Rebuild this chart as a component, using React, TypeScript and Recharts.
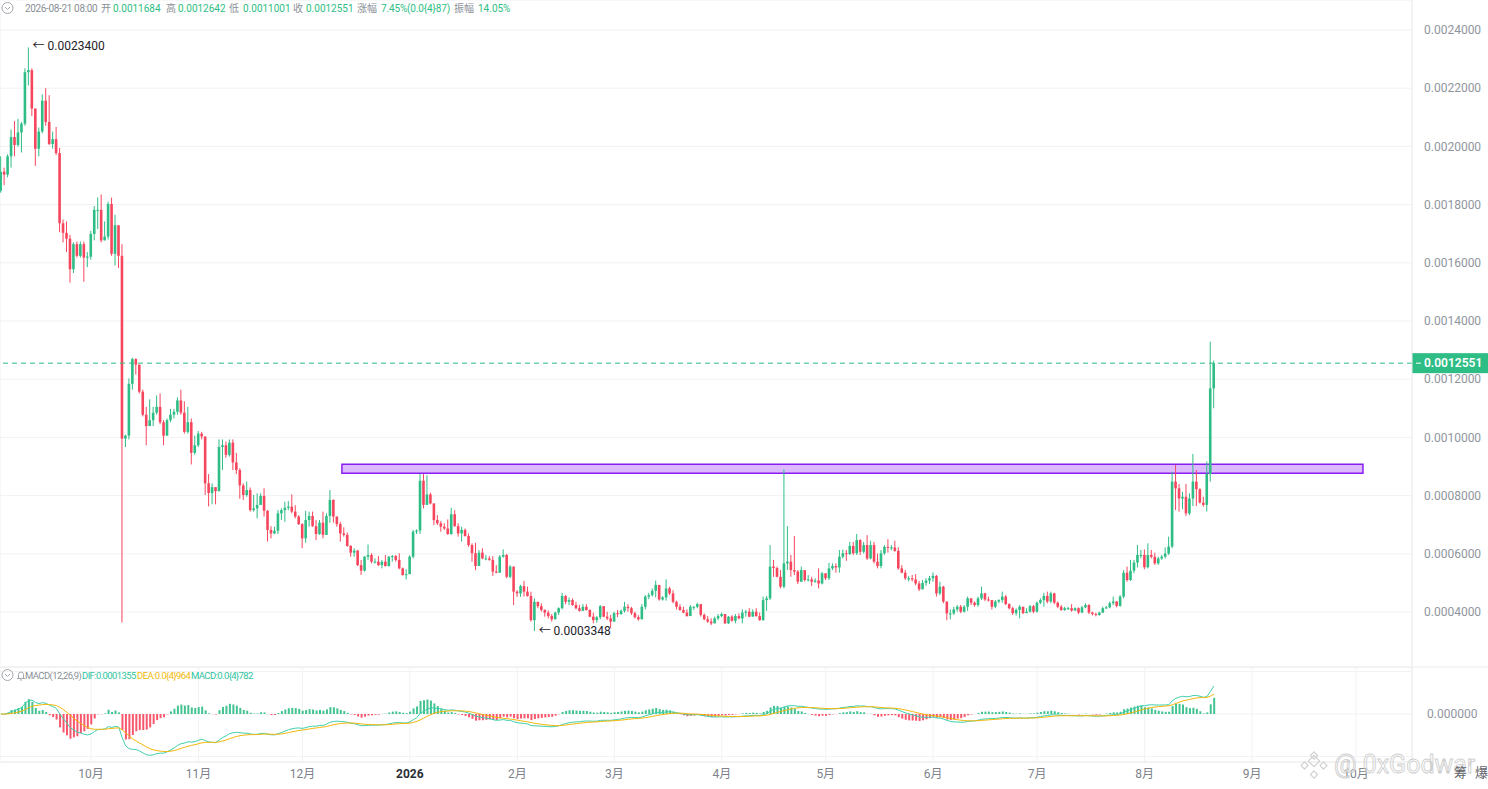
import React from 'react';
import {
  ComposedChart, Bar, Line, XAxis, YAxis, CartesianGrid,
  ReferenceLine, ReferenceArea, ReferenceDot, Cell,
} from 'recharts';

// Day offsets are counted from 2025-10-01 (day 0). First candle: 2025-09-05 (day -26), last: 2026-08-21 (day 324).
const START_DAY = -26;
const FIRST_OPEN = 0.001848;

const CLOSES = [
  0.001913, 0.001903, 0.001966, 0.002032, 0.002005, 0.002048, 0.002078, 0.002255, 0.002262, 0.002130,
  0.001992, 0.002051, 0.002157, 0.002084, 0.002008, 0.002025, 0.001977, 0.001736, 0.001703, 0.001683,
  0.001578, 0.001664, 0.001624, 0.001664, 0.001618, 0.001621, 0.001699, 0.001782, 0.001782, 0.001677,
  0.001690, 0.001802, 0.001631, 0.001729, 0.001624, 0.000996, 0.001006, 0.001184, 0.001269, 0.001250,
  0.001157, 0.001078, 0.001039, 0.001059, 0.001085, 0.001105, 0.001052, 0.001006, 0.001059, 0.001078,
  0.001088, 0.001127, 0.001085, 0.001019, 0.001052, 0.000947, 0.000973, 0.001013, 0.001003, 0.000842,
  0.000809, 0.000829, 0.000815, 0.000967, 0.000973, 0.000940, 0.000982, 0.000914, 0.000888, 0.000835,
  0.000802, 0.000819, 0.000750, 0.000756, 0.000768, 0.000799, 0.000748, 0.000682, 0.000670, 0.000679,
  0.000739, 0.000750, 0.000758, 0.000762, 0.000745, 0.000728, 0.000702, 0.000653, 0.000716, 0.000730,
  0.000695, 0.000668, 0.000707, 0.000665, 0.000730, 0.000785, 0.000728, 0.000702, 0.000670, 0.000665,
  0.000627, 0.000604, 0.000611, 0.000561, 0.000542, 0.000590, 0.000596, 0.000573, 0.000573, 0.000561,
  0.000573, 0.000558, 0.000590, 0.000592, 0.000579, 0.000550, 0.000527, 0.000530, 0.000590, 0.000676,
  0.000680, 0.000851, 0.000768, 0.000804, 0.000773, 0.000716, 0.000705, 0.000693, 0.000687, 0.000668,
  0.000736, 0.000695, 0.000670, 0.000682, 0.000661, 0.000630, 0.000602, 0.000558, 0.000604, 0.000584,
  0.000584, 0.000579, 0.000539, 0.000535, 0.000590, 0.000596, 0.000521, 0.000556, 0.000470, 0.000464,
  0.000489, 0.000470, 0.000455, 0.000372, 0.000435, 0.000420, 0.000407, 0.000398, 0.000386, 0.000375,
  0.000398, 0.000413, 0.000455, 0.000435, 0.000441, 0.000424, 0.000413, 0.000404, 0.000418, 0.000407,
  0.000384, 0.000372, 0.000382, 0.000420, 0.000384, 0.000378, 0.000367, 0.000396, 0.000393, 0.000404,
  0.000418, 0.000413, 0.000396, 0.000382, 0.000375, 0.000418, 0.000453, 0.000458, 0.000473, 0.000493,
  0.000443, 0.000450, 0.000481, 0.000464, 0.000435, 0.000418, 0.000407, 0.000398, 0.000386, 0.000418,
  0.000418, 0.000427, 0.000390, 0.000375, 0.000367, 0.000361, 0.000378, 0.000386, 0.000393, 0.000361,
  0.000384, 0.000370, 0.000386, 0.000378, 0.000398, 0.000401, 0.000384, 0.000401, 0.000386, 0.000372,
  0.000441, 0.000447, 0.000556, 0.000551, 0.000521, 0.000487, 0.000567, 0.000573, 0.000544, 0.000539,
  0.000504, 0.000544, 0.000510, 0.000512, 0.000504, 0.000508, 0.000498, 0.000533, 0.000516, 0.000550,
  0.000558, 0.000553, 0.000590, 0.000602, 0.000599, 0.000627, 0.000602, 0.000647, 0.000607, 0.000630,
  0.000584, 0.000630, 0.000573, 0.000558, 0.000602, 0.000624, 0.000622, 0.000622, 0.000610, 0.000550,
  0.000535, 0.000516, 0.000516, 0.000512, 0.000498, 0.000478, 0.000500, 0.000508, 0.000516, 0.000524,
  0.000464, 0.000487, 0.000436, 0.000395, 0.000395, 0.000409, 0.000418, 0.000401, 0.000418, 0.000447,
  0.000432, 0.000424, 0.000447, 0.000464, 0.000443, 0.000441, 0.000418, 0.000436, 0.000441, 0.000453,
  0.000427, 0.000413, 0.000396, 0.000407, 0.000418, 0.000396, 0.000401, 0.000420, 0.000401, 0.000432,
  0.000441, 0.000455, 0.000436, 0.000464, 0.000432, 0.000418, 0.000407, 0.000413, 0.000413, 0.000405,
  0.000413, 0.000398, 0.000416, 0.000424, 0.000398, 0.000393, 0.000390, 0.000398, 0.000413, 0.000416,
  0.000430, 0.000436, 0.000421, 0.000453, 0.000535, 0.000510, 0.000542, 0.000570, 0.000596, 0.000596,
  0.000554, 0.000596, 0.000590, 0.000567, 0.000584, 0.000590, 0.000601, 0.000625, 0.000848, 0.000825,
  0.000790, 0.000796, 0.000739, 0.000790, 0.000848, 0.000822, 0.000776, 0.000768, 0.000874, 0.0011684,
  0.0012551,
];

const HIGHS = [
  0.001966, 0.001927, 0.001973, 0.002058, 0.002087, 0.002095, 0.002084, 0.002268, 0.002340, 0.002268,
  0.002130, 0.002065, 0.002179, 0.002200, 0.002176, 0.002051, 0.002067, 0.001995, 0.001749, 0.001742,
  0.001696, 0.001670, 0.001673, 0.001673, 0.001673, 0.001637, 0.001710, 0.001795, 0.001825, 0.001835,
  0.001742, 0.001810, 0.001824, 0.001765, 0.001729, 0.001664, 0.001009, 0.001203, 0.001274, 0.001272,
  0.001223, 0.001164, 0.001105, 0.001131, 0.001105, 0.001144, 0.001151, 0.001059, 0.001065, 0.001098,
  0.001098, 0.001138, 0.001164, 0.001124, 0.001105, 0.001065, 0.001006, 0.001022, 0.001019, 0.001003,
  0.000874, 0.000842, 0.000829, 0.000993, 0.000993, 0.000986, 0.000993, 0.000993, 0.000947, 0.000894,
  0.000842, 0.000848, 0.000828, 0.000802, 0.000808, 0.000808, 0.000825, 0.000750, 0.000695, 0.000693,
  0.000750, 0.000756, 0.000779, 0.000781, 0.000804, 0.000767, 0.000733, 0.000705, 0.000748, 0.000745,
  0.000745, 0.000716, 0.000716, 0.000745, 0.000739, 0.000819, 0.000787, 0.000728, 0.000710, 0.000691,
  0.000673, 0.000630, 0.000619, 0.000613, 0.000579, 0.000592, 0.000632, 0.000602, 0.000584, 0.000592,
  0.000579, 0.000596, 0.000592, 0.000596, 0.000596, 0.000602, 0.000553, 0.000547, 0.000595, 0.000682,
  0.000684, 0.000874, 0.000874, 0.000870, 0.000810, 0.000773, 0.000733, 0.000713, 0.000705, 0.000718,
  0.000758, 0.000750, 0.000705, 0.000693, 0.000687, 0.000670, 0.000636, 0.000638, 0.000613, 0.000619,
  0.000596, 0.000592, 0.000592, 0.000561, 0.000596, 0.000615, 0.000599, 0.000561, 0.000556, 0.000475,
  0.000493, 0.000507, 0.000487, 0.000470, 0.000447, 0.000435, 0.000430, 0.000409, 0.000405, 0.000393,
  0.000401, 0.000416, 0.000466, 0.000458, 0.000450, 0.000447, 0.000435, 0.000424, 0.000427, 0.000427,
  0.000409, 0.000398, 0.000386, 0.000424, 0.000409, 0.000401, 0.000390, 0.000401, 0.000407, 0.000409,
  0.000435, 0.000427, 0.000418, 0.000401, 0.000389, 0.000427, 0.000458, 0.000466, 0.000481, 0.000508,
  0.000458, 0.000455, 0.000512, 0.000487, 0.000475, 0.000439, 0.000427, 0.000418, 0.000409, 0.000424,
  0.000420, 0.000432, 0.000420, 0.000395, 0.000386, 0.000378, 0.000384, 0.000393, 0.000398, 0.000393,
  0.000386, 0.000389, 0.000393, 0.000395, 0.000409, 0.000407, 0.000413, 0.000409, 0.000413, 0.000398,
  0.000453, 0.000455, 0.000630, 0.000579, 0.000556, 0.000544, 0.000890, 0.000695, 0.000596, 0.000661,
  0.000544, 0.000556, 0.000544, 0.000527, 0.000521, 0.000516, 0.000550, 0.000538, 0.000533, 0.000569,
  0.000567, 0.000567, 0.000613, 0.000615, 0.000613, 0.000641, 0.000641, 0.000668, 0.000650, 0.000641,
  0.000664, 0.000645, 0.000641, 0.000601, 0.000613, 0.000630, 0.000650, 0.000630, 0.000645, 0.000622,
  0.000561, 0.000544, 0.000524, 0.000527, 0.000530, 0.000507, 0.000510, 0.000516, 0.000524, 0.000536,
  0.000527, 0.000504, 0.000490, 0.000436, 0.000409, 0.000418, 0.000424, 0.000424, 0.000424, 0.000453,
  0.000447, 0.000436, 0.000453, 0.000487, 0.000466, 0.000453, 0.000441, 0.000441, 0.000444, 0.000470,
  0.000458, 0.000430, 0.000418, 0.000413, 0.000424, 0.000418, 0.000413, 0.000424, 0.000424, 0.000436,
  0.000447, 0.000466, 0.000470, 0.000470, 0.000466, 0.000436, 0.000424, 0.000418, 0.000418, 0.000427,
  0.000416, 0.000416, 0.000421, 0.000430, 0.000427, 0.000401, 0.000398, 0.000401, 0.000418, 0.000421,
  0.000436, 0.000453, 0.000438, 0.000458, 0.000544, 0.000556, 0.000579, 0.000579, 0.000630, 0.000613,
  0.000615, 0.000636, 0.000613, 0.000604, 0.000590, 0.000596, 0.000622, 0.000659, 0.000882, 0.000905,
  0.000840, 0.000813, 0.000840, 0.000808, 0.000943, 0.000888, 0.000825, 0.000796, 0.000917, 0.001329,
  0.0012642,
];

const LOWS = [
  0.001841, 0.001867, 0.001894, 0.001927, 0.001966, 0.001999, 0.001979, 0.002071, 0.002209, 0.002104,
  0.001933, 0.001966, 0.002045, 0.002071, 0.002005, 0.001992, 0.001970, 0.001705, 0.001670, 0.001637,
  0.001532, 0.001565, 0.001618, 0.001618, 0.001535, 0.001585, 0.001611, 0.001677, 0.001716, 0.001670,
  0.001677, 0.001680, 0.001624, 0.001591, 0.001582, 0.000364, 0.000967, 0.000993, 0.001164, 0.001216,
  0.001151, 0.001072, 0.000973, 0.001039, 0.001039, 0.001078, 0.001045, 0.000973, 0.001006, 0.001052,
  0.001065, 0.001078, 0.001078, 0.001013, 0.001013, 0.000907, 0.000940, 0.000967, 0.000993, 0.000802,
  0.000763, 0.000770, 0.000770, 0.000815, 0.000888, 0.000930, 0.000934, 0.000888, 0.000874, 0.000789,
  0.000785, 0.000796, 0.000745, 0.000745, 0.000722, 0.000768, 0.000728, 0.000642, 0.000653, 0.000668,
  0.000668, 0.000716, 0.000710, 0.000750, 0.000739, 0.000722, 0.000699, 0.000619, 0.000638, 0.000693,
  0.000693, 0.000647, 0.000665, 0.000653, 0.000665, 0.000707, 0.000707, 0.000693, 0.000642, 0.000659,
  0.000624, 0.000590, 0.000590, 0.000558, 0.000527, 0.000539, 0.000579, 0.000567, 0.000567, 0.000558,
  0.000550, 0.000556, 0.000556, 0.000573, 0.000573, 0.000547, 0.000525, 0.000512, 0.000533, 0.000584,
  0.000668, 0.000668, 0.000756, 0.000768, 0.000770, 0.000699, 0.000699, 0.000676, 0.000682, 0.000665,
  0.000665, 0.000693, 0.000659, 0.000642, 0.000659, 0.000624, 0.000573, 0.000544, 0.000558, 0.000581,
  0.000578, 0.000576, 0.000524, 0.000533, 0.000558, 0.000587, 0.000516, 0.000516, 0.000424, 0.000452,
  0.000452, 0.000453, 0.000453, 0.000367, 0.0003348, 0.000413, 0.000401, 0.000384, 0.000378, 0.000367,
  0.000382, 0.000390, 0.000409, 0.000427, 0.000424, 0.000421, 0.000409, 0.000401, 0.000407, 0.000405,
  0.000382, 0.000361, 0.000363, 0.000375, 0.000382, 0.000372, 0.000344, 0.000370, 0.000382, 0.000390,
  0.000398, 0.000401, 0.000390, 0.000378, 0.000370, 0.000375, 0.000409, 0.000444, 0.000453, 0.000450,
  0.000439, 0.000439, 0.000439, 0.000458, 0.000430, 0.000409, 0.000404, 0.000396, 0.000384, 0.000390,
  0.000407, 0.000413, 0.000384, 0.000372, 0.000363, 0.000355, 0.000361, 0.000372, 0.000382, 0.000359,
  0.000359, 0.000367, 0.000361, 0.000375, 0.000361, 0.000384, 0.000382, 0.000386, 0.000384, 0.000370,
  0.000370, 0.000404, 0.000441, 0.000521, 0.000519, 0.000481, 0.000481, 0.000544, 0.000521, 0.000527,
  0.000496, 0.000504, 0.000505, 0.000505, 0.000489, 0.000500, 0.000481, 0.000495, 0.000510, 0.000510,
  0.000544, 0.000535, 0.000535, 0.000584, 0.000576, 0.000596, 0.000596, 0.000596, 0.000596, 0.000601,
  0.000579, 0.000581, 0.000567, 0.000550, 0.000550, 0.000596, 0.000604, 0.000612, 0.000607, 0.000545,
  0.000533, 0.000510, 0.000505, 0.000505, 0.000492, 0.000472, 0.000487, 0.000490, 0.000496, 0.000504,
  0.000453, 0.000458, 0.000430, 0.000372, 0.000375, 0.000390, 0.000401, 0.000396, 0.000398, 0.000404,
  0.000424, 0.000418, 0.000418, 0.000441, 0.000438, 0.000436, 0.000409, 0.000413, 0.000430, 0.000432,
  0.000424, 0.000409, 0.000390, 0.000388, 0.000378, 0.000393, 0.000396, 0.000398, 0.000396, 0.000398,
  0.000427, 0.000418, 0.000430, 0.000430, 0.000427, 0.000413, 0.000404, 0.000404, 0.000407, 0.000401,
  0.000404, 0.000393, 0.000396, 0.000413, 0.000393, 0.000388, 0.000385, 0.000387, 0.000396, 0.000410,
  0.000413, 0.000424, 0.000416, 0.000418, 0.000447, 0.000504, 0.000507, 0.000533, 0.000553, 0.000584,
  0.000547, 0.000550, 0.000584, 0.000562, 0.000562, 0.000579, 0.000584, 0.000596, 0.000619, 0.000750,
  0.000745, 0.000753, 0.000730, 0.000733, 0.000764, 0.000764, 0.000773, 0.000762, 0.000745, 0.000848,
  0.0011001,
];

const MONTH_TICKS = [0, 31, 61, 92, 123, 151, 182, 212, 243, 273, 304, 335, 365];
const MONTH_LABELS = ['10月', '11月', '12月', '2026', '2月', '3月', '4月', '5月', '6月', '7月', '8月', '9月', '10月'];
const PRICE_TICKS = [0.0004, 0.0006, 0.0008, 0.001, 0.0012, 0.0014, 0.0016, 0.0018, 0.002, 0.0022, 0.0024];
const MACD_TICKS = [-0.000206, 0, 0.000206];

const LAST_PRICE = 0.0012551;
const HIGH_MARK = { d: -18, v: 0.00234, text: '0.0023400' };
const LOW_MARK = { d: 128, v: 0.0003348, text: '0.0003348' };
const ZONE = { d1: 72.4, d2: 367.0, lo: 0.0008766, hi: 0.0009076 };

const X_DOMAIN: [number, number] = [-26.257, 381.15];
const Y_DOMAIN: [number, number] = [0.000211, 0.0025031];
const MACD_DOMAIN: [number, number] = [-0.0002323, 0.0002275];

const UP = '#2ebd85';
const DOWN = '#f6465d';
const GRID = '#f2f2f2';
const LABEL = '#8a8f97';
const FONT = "Roboto, 'Noto Sans CJK SC', sans-serif";

const rows = CLOSES.map((c, i) => {
  const open = i === 0 ? FIRST_OPEN : CLOSES[i - 1];
  return {
    d: START_DAY + i,
    open,
    close: c,
    high: Math.max(HIGHS[i], open, c),
    low: Math.min(LOWS[i], open, c),
  };
});

const macdRows = (() => {
  let e12 = CLOSES[0];
  let e26 = CLOSES[0];
  let dea = 0;
  return rows.map((r, i) => {
    if (i > 0) {
      e12 = e12 + ((r.close - e12) * 2) / 13;
      e26 = e26 + ((r.close - e26) * 2) / 27;
    }
    const dif = e12 - e26;
    dea = i === 0 ? dif : dea + ((dif - dea) * 2) / 10;
    return { d: r.d, dif, dea, hist: 2 * (dif - dea) };
  });
})();

const Candle = (props: any) => {
  const { x, y, width, height, payload } = props;
  if (!payload || x == null || y == null) return null;
  const { open, close, high, low } = payload;
  const top = Math.min(y, y + height);
  const h = Math.abs(height);
  const cx = x + width / 2;
  const k = high - low > 0 ? h / (high - low) : 0;
  const yO = top + (high - open) * k;
  const yC = top + (high - close) * k;
  const color = close >= open ? UP : DOWN;
  const bTop = Math.min(yO, yC);
  const bH = Math.max(Math.abs(yO - yC), 1);
  return (
    <g>
      <line x1={cx} x2={cx} y1={top} y2={top + h} stroke={color} strokeWidth={1} />
      <rect x={cx - 1.3} y={bTop} width={2.6} height={bH} fill={color} />
    </g>
  );
};

const PriceTag = (props: any) => {
  const vb = props.viewBox || {};
  const right = (vb.x || 0) + (vb.width || 0);
  const yy = vb.y || 0;
  return (
    <g>
      <rect x={right} y={yy - 10} width={76} height={20} fill={UP} />
      <line x1={right + 4} x2={right + 9} y1={yy} y2={yy} stroke="#ffffff" strokeWidth={1} />
      <text x={right + 12} y={yy} dy="0.35em" fill="#ffffff" fontSize={12} fontWeight={600}>
        {LAST_PRICE.toFixed(7)}
      </text>
    </g>
  );
};

const markLabel = (text: string, dy: number) => (props: any) => {
  const vb = props.viewBox || {};
  const cx = (vb.x || 0) + (vb.width || 0) / 2;
  const cy = (vb.y || 0) + (vb.height || 0) / 2;
  return (
    <text x={cx + 4} y={cy + dy} dy="0.35em" fontSize={12} fill="#1e2329">
      {'← ' + text}
    </text>
  );
};

const MonthTick = (props: any) => {
  const { x, y, payload } = props;
  const i = MONTH_TICKS.indexOf(payload.value);
  const label = MONTH_LABELS[i] ?? '';
  const bold = label === '2026';
  return (
    <text x={x} y={y} dy="0.71em" textAnchor="middle" fontSize={12}
      fill={bold ? '#2b2f36' : '#7d828b'} fontWeight={bold ? 700 : 400}>
      {label}
    </text>
  );
};

const HEADER = [
  { t: '2026-08-21 08:00', x: 25, c: LABEL, ls: -0.35 },
  { t: '开', x: 101, c: LABEL, ls: 0 },
  { t: '0.0011684', x: 113, c: UP, ls: 0 },
  { t: '高', x: 166, c: LABEL, ls: 0 },
  { t: '0.0012642', x: 178, c: UP, ls: 0 },
  { t: '低', x: 229, c: LABEL, ls: 0 },
  { t: '0.0011001', x: 243, c: UP, ls: 0 },
  { t: '收', x: 293, c: LABEL, ls: 0 },
  { t: '0.0012551', x: 306, c: UP, ls: 0 },
  { t: '涨幅', x: 357, c: LABEL, ls: 0 },
  { t: '7.45%(0.0{4}87)', x: 381, c: UP, ls: -0.15 },
  { t: '振幅', x: 454, c: LABEL, ls: 0 },
  { t: '14.05%', x: 478, c: UP, ls: 0 },
];

const LEGEND = [
  { t: 'MACD(12,26,9)', x: 25, c: LABEL },
  { t: 'DIF:0.0001355', x: 82, c: '#2ec4a0' },
  { t: 'DEA:0.0{4}964', x: 137, c: '#f0b90b' },
  { t: 'MACD:0.0{4}782', x: 191, c: '#2ec4a0' },
];

export default function App() {
  return (
    <div style={{ position: 'absolute', left: 0, top: 0, width: 1488, height: 789, background: '#ffffff', fontFamily: FONT, overflow: 'hidden' }}>
      <div style={{ position: 'absolute', left: 0, top: 0 }}>
        <ComposedChart width={1488} height={667} data={rows} margin={{ top: 0, right: 0, bottom: 0, left: 0 }}>
          <CartesianGrid stroke={GRID} />
          <XAxis dataKey="d" type="number" domain={X_DOMAIN} allowDataOverflow ticks={MONTH_TICKS} interval={0}
            height={0} tick={false} axisLine={false} tickLine={false} />
          <YAxis orientation="right" width={76} domain={Y_DOMAIN} allowDataOverflow ticks={PRICE_TICKS}
            tickFormatter={(v: number) => v.toFixed(7)} axisLine={{ stroke: '#ececec' }} tickLine={false}
            tickSize={6} tickMargin={6} tick={{ fill: '#8f959e', fontSize: 12 }} />
          <ReferenceArea x1={ZONE.d1} x2={ZONE.d2} y1={ZONE.lo} y2={ZONE.hi}
            fill="#b366ff" fillOpacity={0.45} stroke="#8a1ef0" strokeWidth={1.5} />
          <Bar dataKey={(r: any) => [r.low, r.high]} barSize={3} shape={<Candle />} isAnimationActive={false} />
          <ReferenceLine y={LAST_PRICE} stroke={UP} strokeDasharray="5 4" strokeWidth={1} label={<PriceTag />} />
          <ReferenceDot x={HIGH_MARK.d} y={HIGH_MARK.v} r={0} fill="none" stroke="none"
            label={markLabel(HIGH_MARK.text, -2)} />
          <ReferenceDot x={LOW_MARK.d} y={LOW_MARK.v} r={0} fill="none" stroke="none"
            label={markLabel(LOW_MARK.text, 0)} />
        </ComposedChart>
      </div>
      <div style={{ position: 'absolute', left: 0, top: 667 }}>
        <ComposedChart width={1488} height={122} data={macdRows} margin={{ top: 0, right: 0, bottom: 0, left: 0 }}>
          <CartesianGrid stroke={GRID} />
          <XAxis dataKey="d" type="number" domain={X_DOMAIN} allowDataOverflow ticks={MONTH_TICKS} interval={0}
            height={27} axisLine={{ stroke: '#ececec' }} tickLine={false} tickSize={6} tickMargin={1}
            tick={<MonthTick />} />
          <YAxis orientation="right" width={76} domain={MACD_DOMAIN} allowDataOverflow ticks={MACD_TICKS}
            tickFormatter={(v: number) => (v === 0 ? '0.000000' : '')} axisLine={{ stroke: '#ececec' }}
            tickLine={false} tickSize={6} tickMargin={9} tick={{ fill: '#8f959e', fontSize: 12 }} />
          <Bar dataKey="hist" barSize={2} isAnimationActive={false}>
            {macdRows.map((r) => (
              <Cell key={'c' + r.d} fill={r.hist >= 0 ? UP : DOWN} fillOpacity={0.9} />
            ))}
          </Bar>
          <Line dataKey="dif" type="linear" stroke="#3fcfae" strokeWidth={1} dot={false} isAnimationActive={false} />
          <Line dataKey="dea" type="linear" stroke="#f5b60a" strokeWidth={1} dot={false} isAnimationActive={false} />
        </ComposedChart>
      </div>
      <svg width={1488} height={789} style={{ position: 'absolute', left: 0, top: 0, pointerEvents: 'none' }} fontFamily={FONT}>
        <line x1={0} x2={1488} y1={667} y2={667} stroke="#ececec" />
        <circle cx={7.5} cy={8} r={5.5} fill="none" stroke="#a3a8ae" strokeWidth={1} />
        <path d="M5 7 L7.5 9.5 L10 7" fill="none" stroke="#a3a8ae" strokeWidth={1} />
        {HEADER.map((h) => (
          <text key={h.t + h.x} x={h.x} y={11.5} fontSize={10} fill={h.c} style={{ letterSpacing: h.ls }}>{h.t}</text>
        ))}
        <circle cx={7.5} cy={675} r={5.5} fill="none" stroke="#a3a8ae" strokeWidth={1} />
        <path d="M5 674 L7.5 676.5 L10 674" fill="none" stroke="#a3a8ae" strokeWidth={1} />
        <path d="M17 678.5 H25 M18.5 678.5 V674.5 A2.5 2.5 0 0 1 23.5 674.5 V678.5 M20 680 H22" fill="none" stroke="#a3a8ae" strokeWidth={1} />
        {LEGEND.map((h) => (
          <text key={h.t} x={h.x} y={679} fontSize={9.5} fill={h.c} style={{ letterSpacing: -0.6 }}>{h.t}</text>
        ))}
        <g fill="none" stroke="#d2d2d2" strokeWidth={1.2}>
          <rect x={1310} y={757} width={8} height={8} transform="rotate(45 1314 761)" />
          <rect x={1302} y={763} width={5} height={5} transform="rotate(45 1304.5 765.5)" />
          <rect x={1321} y={763} width={5} height={5} transform="rotate(45 1323.5 765.5)" />
          <rect x={1311.5} y={753} width={5} height={5} transform="rotate(45 1314 755.5)" />
          <rect x={1311.5} y={772} width={5} height={5} transform="rotate(45 1314 774.5)" />
        </g>
        <text x={1334} y={773} fontSize={25} fill="#ffffff" fillOpacity={0.3} stroke="#cfcfcf" strokeWidth={0.9}>@ 0xGodwar</text>
        <text x={1454} y={777} fontSize={13} fill="#5f6368">筹</text>
        <text x={1475} y={777} fontSize={13} fill="#5f6368">爆</text>
      </svg>
    </div>
  );
}
